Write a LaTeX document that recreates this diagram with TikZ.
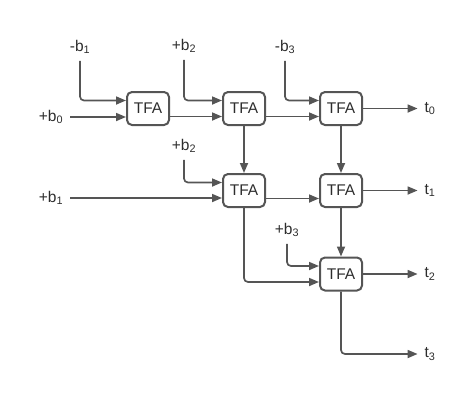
\documentclass[tikz,border=0pt]{standalone}
\usepackage{fontspec}
\setmainfont{Liberation Sans}
\usetikzlibrary{arrows.meta}
\definecolor{ln}{RGB}{85,85,85}
\definecolor{tx}{RGB}{45,45,45}
\begin{document}
\begin{tikzpicture}
[x=1pt,y=-1pt,
ar/.style={-{Triangle[length=10pt,width=8pt]},line width=1.7pt,draw=ln,rounded corners=4pt},
tfa/.style={draw=ln,line width=2pt,rounded corners=5pt,minimum width=42pt,minimum height=33pt,inner sep=0pt,text=tx,font=\fontsize{15.5}{18}\selectfont},
lb/.style={inner sep=0pt,outer sep=7pt,text=tx,font=\fontsize{15.5}{18}\selectfont}]
\useasboundingbox (0,0) rectangle (474,402);

\node [tfa] at (148,108.5) (A) {TFA};
\node [tfa] at (244,108.5) (B) {TFA};
\node [tfa] at (341,108.5) (C) {TFA};
\node [tfa] at (244,190.5) (D) {TFA};
\node [tfa] at (341,190.5) (E) {TFA};
\node [tfa] at (341,274) (F) {TFA};

\node [lb] at (80,47) (nb1) {-b\textsubscript{1}};
\node [lb] at (51,117) (b0) {+b\textsubscript{0}};
\node [lb] at (184,46) (b2a) {+b\textsubscript{2}};
\node [lb] at (285,47) (nb3) {-b\textsubscript{3}};
\node [lb] at (184,146) (b2b) {+b\textsubscript{2}};
\node [lb] at (51,198) (b1) {+b\textsubscript{1}};
\node [lb] at (287,230) (b3) {+b\textsubscript{3}};
\node [lb] at (430,108.5) (t0) {t\textsubscript{0}};
\node [lb] at (430,190.5) (t1) {t\textsubscript{1}};
\node [lb] at (430,274) (t2) {t\textsubscript{2}};
\node [lb] at (430,354) (t3) {t\textsubscript{3}};

\draw [ar] (nb1.south) |- ([yshift=8pt]A.west);
\draw [ar] (b0.east) -- (b0.east -| A.west);
\draw [ar] (b2a.south) |- ([yshift=8pt]B.west);
\draw [ar] ([yshift=-8pt]A.east) -- ([yshift=-8pt]B.west);
\draw [ar] (nb3.south) |- ([yshift=8pt]C.west);
\draw [ar] ([yshift=-8pt]B.east) -- ([yshift=-8pt]C.west);
\draw [ar] (C) -- (t0);
\draw [ar] (B) -- (D);
\draw [ar] (C) -- (E);
\draw [ar] (b2b.south) |- ([yshift=8pt]D.west);
\draw [ar] (b1.east) -- (b1.east -| D.west);
\draw [ar] ([yshift=-8pt]D.east) -- ([yshift=-8pt]E.west);
\draw [ar] (E) -- (t1);
\draw [ar] (b3.south) |- ([yshift=8pt]F.west);
\draw [ar] (D.south) |- ([yshift=-8pt]F.west);
\draw [ar] (E) -- (F);
\draw [ar] (F) -- (t2);
\draw [ar] (F.south) |- (t3.west);
\end{tikzpicture}
\end{document}
